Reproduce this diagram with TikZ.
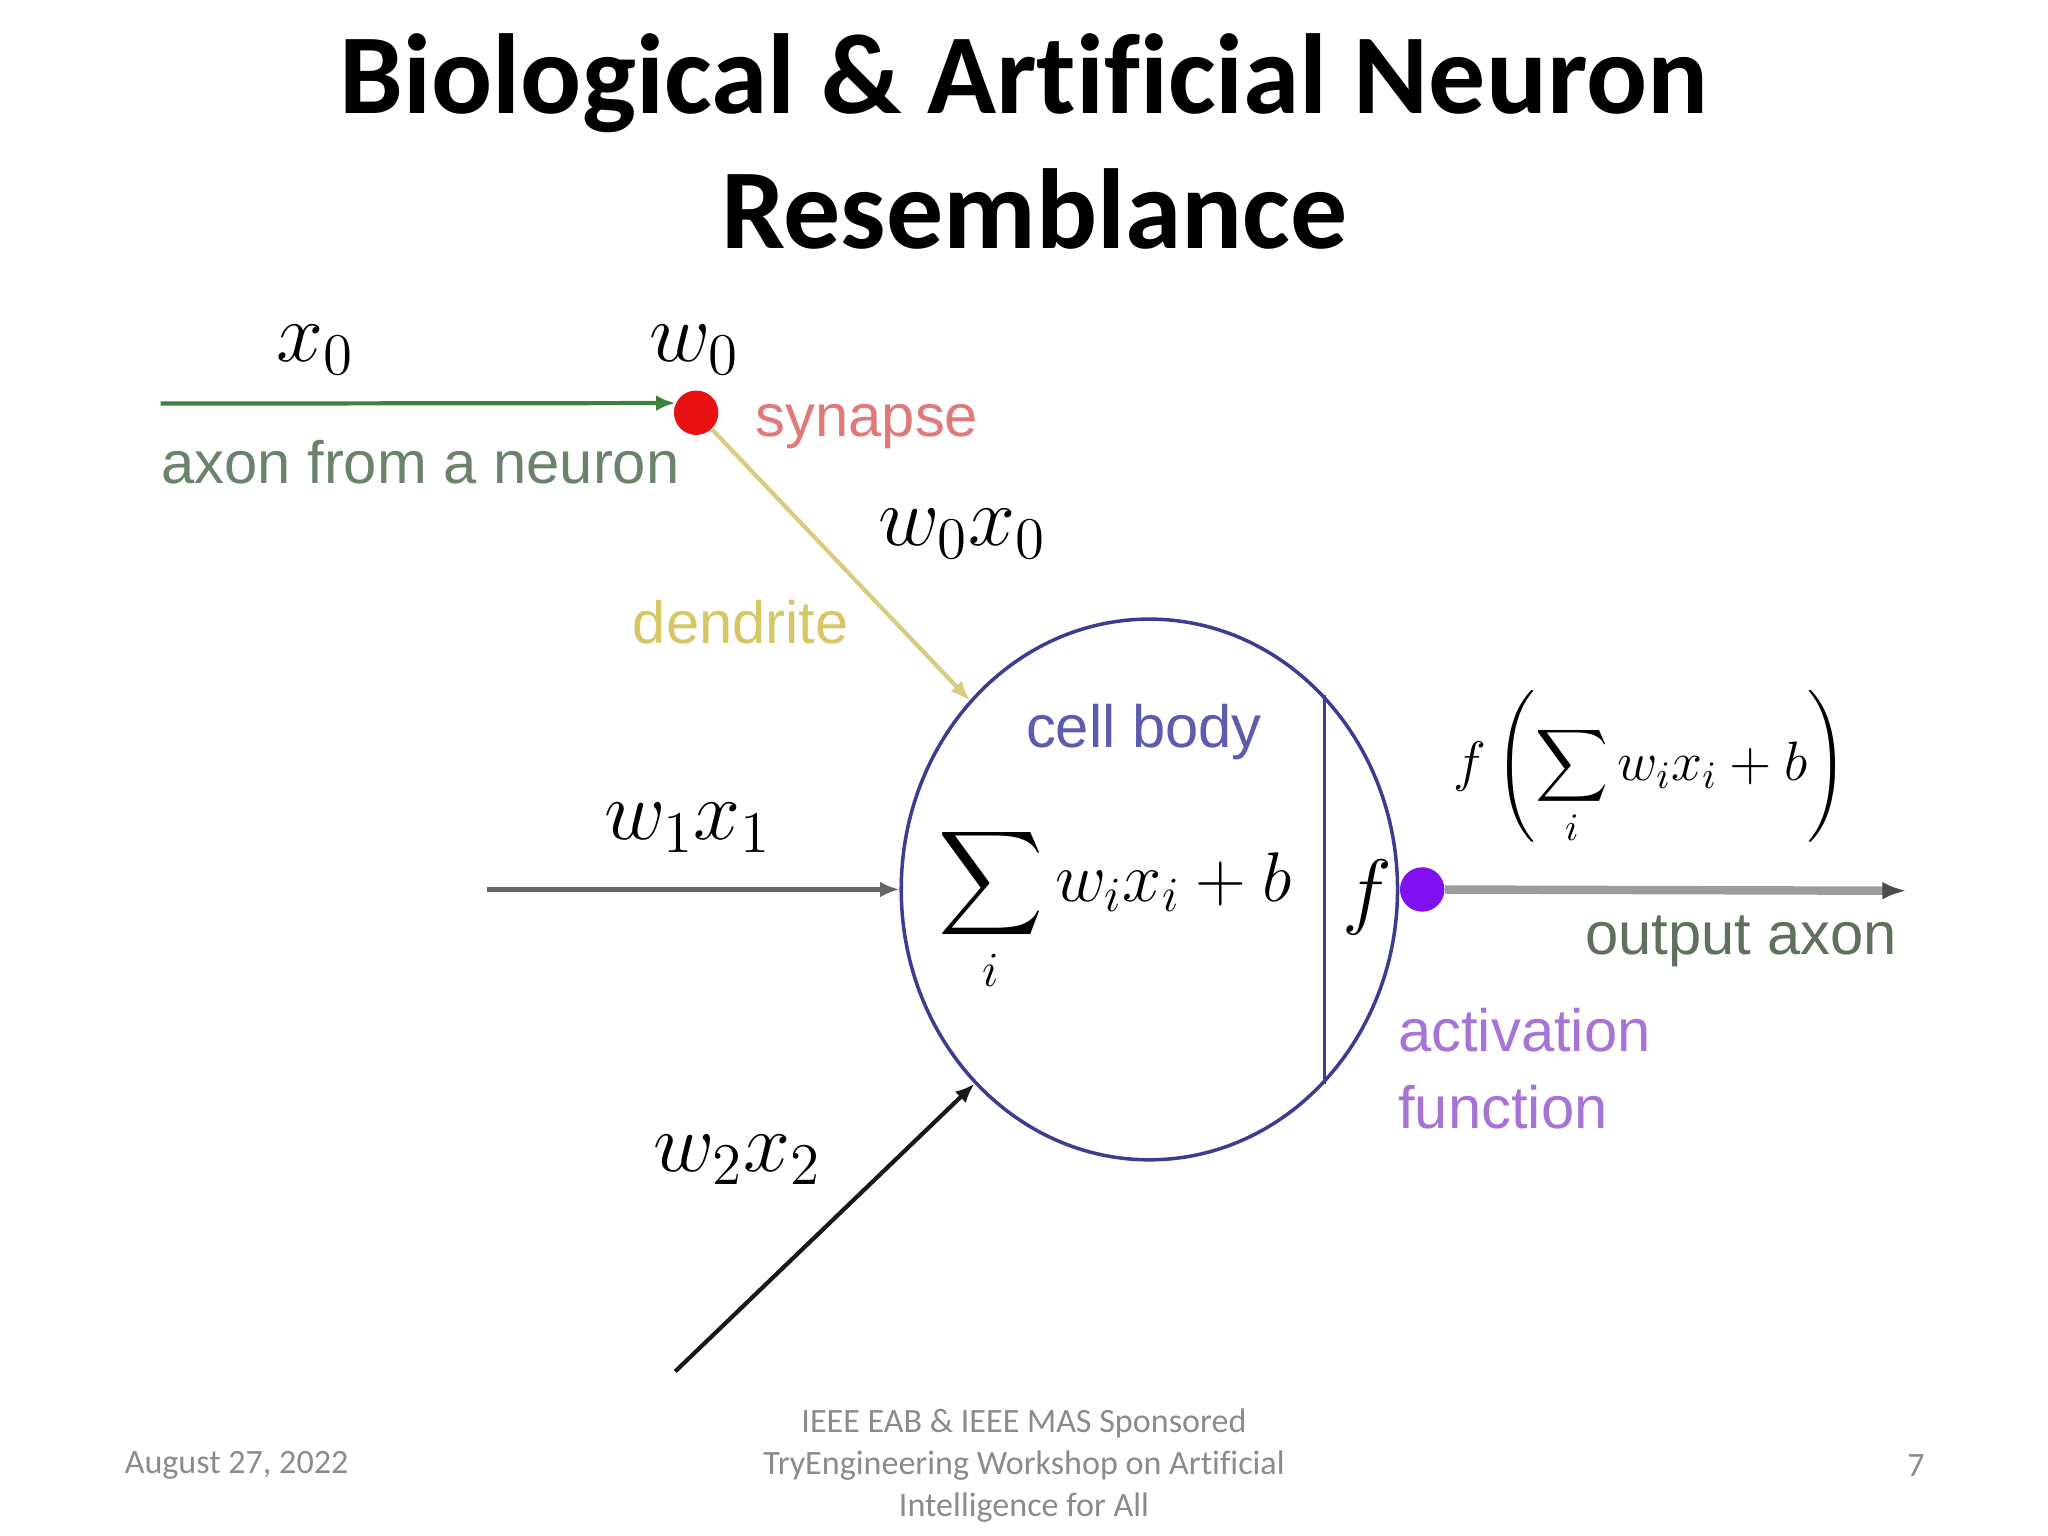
\documentclass[tikz,border=0pt]{standalone}
\usepackage{fix-cm}
\usepackage{amsmath}
\usepackage{fontspec}
\newfontfamily\slidefont[Ligatures=NoCommon]{Carlito}
\newfontfamily\figfont{Liberation Sans}
\usetikzlibrary{shapes.geometric,positioning,arrows.meta}

\definecolor{axongreen}{HTML}{3F7F3F}
\definecolor{axontext}{HTML}{6B836B}
\definecolor{synred}{HTML}{E81010}
\definecolor{syntext}{HTML}{E07A7A}
\definecolor{dendline}{HTML}{D9CC80}
\definecolor{dendtext}{HTML}{D6C664}
\definecolor{bodyblue}{HTML}{3C3C90}
\definecolor{celltext}{HTML}{5C5CAE}
\definecolor{actpurple}{HTML}{8010F0}
\definecolor{acttext}{HTML}{A674D6}
\definecolor{outgray}{HTML}{9C9C9C}
\definecolor{outtext}{HTML}{5F705F}
\definecolor{footgray}{HTML}{8B8B8B}

\begin{document}
\begin{tikzpicture}[x=0.0130612cm,y=-0.0130612cm,
	>={Latex[length=5.5pt,width=4.5pt]},
	lbl/.style={font=\figfont\fontsize{17}{22}\selectfont,inner sep=0pt},
	mathlbl/.style={font=\fontsize{24}{28}\selectfont,inner sep=0pt},
	dot/.style={circle,inner sep=0pt,minimum size=0.444cm},
	foot/.style={font=\slidefont\fontsize{9.7}{11.85}\selectfont,text=footgray,inner sep=0pt}]
	\useasboundingbox (0,0) rectangle (1568,1176);

	% title
	\node[font=\slidefont\bfseries\fontsize{32.4}{38}\selectfont,anchor=base] (title1) at (784,87) {Biological \& Artificial Neuron};
	\node[font=\slidefont\bfseries\fontsize{32.4}{38}\selectfont,anchor=base] (title2) at (792,190) {Resemblance};

	% neuron
	\node[draw=bodyblue,line width=1pt,ellipse,inner sep=0pt,minimum width=4.963cm,minimum height=5.407cm] (body) at (880,681) {};
	\draw[bodyblue,line width=1pt] (body.48) -- (body.-48);
	\node[dot,fill=synred] (syn) at (533,316) {};
	\node[dot,fill=actpurple,right=0pt of body] (act) {};
	\coordinate (axin) at (123,309);
	\coordinate (w1in) at (373,681);
	\coordinate (w2in) at (517,1050);
	\coordinate (outend) at (1460,682);

	\draw[->,axongreen,line width=1.2pt] (axin) -- (syn.155);
	\draw[->,dendline,line width=1.2pt] (syn) -- (body);
	\draw[->,black!60,line width=1.4pt] (w1in) -- (w1in -| body.west);
	\draw[->,black!90,line width=1.2pt] (w2in) -- (body.228);
	\draw[-{Latex[length=7pt,width=5pt,color=black!70]},outgray,line width=2.4pt] (act) -- (outend);

	% labels
	\node[mathlbl,anchor=base west] (x0) at (211,277) {$x_0$};
	\node[mathlbl,anchor=base west] (w0) at (497,277) {$w_0$};
	\node[mathlbl,anchor=base west] (w0x0) at (672,418) {$w_0x_0$};
	\node[mathlbl,anchor=base west] (w1x1) at (462,643) {$w_1x_1$};
	\node[mathlbl,anchor=base west] (w2x2) at (500,897) {$w_2x_2$};
	\node[mathlbl,anchor=base west] (flbl) at (1027,703) {$f$};
	\node[font=\fontsize{20}{24}\selectfont,inner sep=0pt,anchor=base west] (sumlbl) at (718,690) {$\displaystyle\sum_i w_ix_i+b$};
	\node[font=\fontsize{15.8}{19}\selectfont,inner sep=0pt,anchor=west] (outlbl) at (1112,588) {$f\left(\displaystyle\sum_i w_ix_i+b\right)$};

	\node[lbl,text=axontext,anchor=base west] (axlbl) at (123,370) {axon from a neuron};
	\node[lbl,text=syntext,anchor=base west] (synlbl) at (578,334) {synapse};
	\node[lbl,text=dendtext,anchor=base west] (dendlbl) at (484,493) {dendrite};
	\node[lbl,text=celltext,anchor=base west] (celllbl) at (785,572) {cell body};
	\node[lbl,text=outtext,anchor=base west] (outaxlbl) at (1213,731) {output axon};
	\node[lbl,text=acttext,anchor=base west,align=left] (actlbl) at (1070,864) {activation\\function};

	% footer
	\node[foot,anchor=west] (date) at (95,1122) {August 27, 2022};
	\node[foot,align=center] (event) at (784,1122) {IEEE EAB \& IEEE MAS Sponsored\\TryEngineering Workshop on Artificial\\Intelligence for All};
	\node[foot] (page) at (1467,1122) {7};
\end{tikzpicture}
\end{document}
